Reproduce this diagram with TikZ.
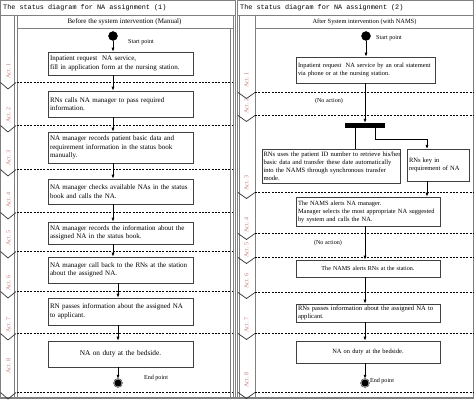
\documentclass[tikz,border=0pt]{standalone}
\usepackage{fontspec}
\setmainfont{Liberation Serif}
\newfontfamily\titlefont{Liberation Mono}
\usetikzlibrary{arrows.meta,calc}
\definecolor{actred}{HTML}{C87878}
\definecolor{framegray}{HTML}{808080}
\tikzset{
  fs/.style 2 args={font=\fontsize{#1}{#2}\selectfont},
  box/.style={draw=black!75, line width=0.6pt, fill=white, align=left, inner xsep=2pt, inner ysep=1pt},
  cbox/.style={box, align=center},
  arr/.style={line width=0.7pt, -{Latex[length=4pt,width=3pt]}},
  plain/.style={line width=0.7pt},
  sep/.style={line width=0.7pt, dash pattern=on 2pt off 1.3pt},
  chev/.style={line width=0.7pt, black!80},
  frame/.style={line width=0.5pt, framegray},
  actlbl/.style={font=\fontsize{6}{7}\selectfont, text=actred, rotate=90, inner sep=0pt},
  lbl/.style={font=\fontsize{6.1}{7.5}\selectfont, inner sep=0pt},
  ttl/.style={font=\titlefont\fontsize{6.8}{8}\selectfont, anchor=west, inner sep=0pt},
  hdr/.style={inner sep=0pt},
  dot/.style={circle, fill=black, draw=black, inner sep=0pt, minimum size=9pt},
  enddot/.style={circle, fill=black, draw=black, double=white, double distance=0.4pt, inner sep=0pt, minimum size=8pt}
}
\begin{document}
\begin{tikzpicture}[x=1pt,y=-1pt]
\useasboundingbox (0,0) rectangle (474,401);
\fill[white] (0,0) rectangle (474,401);

% ---------- frames ----------
\draw[frame] (0.5,0.5) rectangle (235,397);
\draw[frame] (0.5,15) -- (235,15);
\draw[frame] (17,28) -- (233,28);
\draw[frame] (14,15) -- (14,397);
\draw[frame] (17,15) -- (17,397);
\draw[frame] (230,28) -- (230,397);
\draw[frame] (233,15) -- (233,397);
\draw[frame] (237,0.5) rectangle (473.5,397);
\draw[frame] (237,15) -- (473.5,15);
\draw[frame] (255,28) -- (473.5,28);
\draw[frame] (239,15) -- (239,397);
\draw[frame] (255,15) -- (255,397);
\draw[line width=1.5pt, framegray] (0,398) -- (474,398);

% titles and headers
\node[ttl] (t1) at (3,8) {The status diagram for NA assignment (1)};
\node[ttl] (t2) at (240,8) {The status diagram for NA assignment (2)};
\node[hdr, fs={7}{8}] (h1) at (124.5,22) {Before the system intervention (Manual)};
\node[hdr, fs={6.4}{8}] (h2) at (364.5,22) {After System intervention (with NAMS)};

% ---------- separators left ----------
\foreach \y in {82,125,169,212,251,291,333,392}{
  \draw[sep] (17,\y) -- (232,\y);
  \draw[chev] (0.5,\y+0.5) -- (8,\y+7) -- (16,\y+0.5);
}
\foreach \y/\t in {71/1,115/2,158/3,200/4,238/5,283/6,325/7,366/8}{
  \node[actlbl] at (8.5,\y) {Act. \t};
}
% ---------- separators right ----------
\foreach \y in {92,115,192,233,257,292,333,392}{
  \draw[sep] (255,\y) -- (473,\y);
  \draw[chev] (238,\y+0.5) -- (246.5,\y+6.5) -- (255,\y+0.5);
}
\foreach \y/\t in {80/1,106/2,183/3,225/4,250/5,281/6,325/7,380/8}{
  \node[actlbl] at (246.5,\y) {Act. \t};
}

% ---------- left diagram ----------
\node[dot] (sL) at (113,36) {};
\node[lbl] (spL) at (141,42) {Start point};
\node[box, fs={7}{8.5}, minimum width=145pt, minimum height=23pt, text width=141pt] (b1) at (120.5,63.5)
  {Inpatient request~ NA service,\\ fill in application form at the nursing station.};
\node[box, fs={7}{8.5}, minimum width=145pt, minimum height=26pt, text width=141pt] (b2) at (120.5,104)
  {RNs calls NA manager to pass required\\ information.};
\node[box, fs={7}{8.5}, minimum width=145pt, minimum height=31pt, text width=141pt] (b3) at (120.5,147.5)
  {NA manager records patient basic data and\\ requirement information in the status book\\ manually.};
\node[box, fs={7}{8.5}, minimum width=145pt, minimum height=25pt, text width=141pt] (b4) at (120.5,191.5)
  {NA manager checks available NAs in the status\\ book and calls the NA.};
\node[box, fs={7}{8.5}, minimum width=145pt, minimum height=22pt, text width=141pt] (b5) at (120.5,233)
  {NA manager records the information about the\\ assigned NA in the status book.};
\node[box, fs={7}{8.5}, minimum width=145pt, minimum height=26pt, text width=141pt] (b6) at (120.5,270)
  {NA manager call back to the RNs at the station\\ about the assigned NA.};
\node[box, fs={7}{8.5}, minimum width=145pt, minimum height=27pt, text width=141pt] (b7) at (120.5,311.5)
  {RN passes information about the assigned NA\\ to applicant.};
\node[cbox, fs={7.3}{8.5}, minimum width=145pt, minimum height=26pt, text width=141pt] (b8) at (120.5,354)
  {NA on duty at the bedside.};
\node[enddot] (eL) at (118,383) {};
\node[lbl] (epL) at (156,378) {End point};

\draw[arr] (sL.south) -- (sL.south |- b1.north);
\draw[arr] (b1.south -| sL) -- (b2.north -| sL);
\draw[arr] (b2.south -| sL) -- (b3.north -| sL);
\draw[arr] (b3.south -| sL) -- (b4.north -| sL);
\draw[arr] (b4.south -| sL) -- (b5.north -| sL);
\draw[arr] (b5.south -| sL) -- (b6.north -| sL);
\draw[arr] (b6.south -| eL) -- (b7.north -| eL);
\draw[arr] (b7.south -| eL) -- (b8.north -| eL);
\draw[arr] (b8.south -| eL) -- (eL.north);

% ---------- right diagram ----------
\node[dot] (sR) at (366,36) {};
\node[lbl] (spR) at (389,38) {Start point};
\node[box, fs={6.4}{8}, minimum width=139pt, minimum height=26pt, text width=135pt] (r1) at (365.5,70)
  {Inpatient request~ NA service by an oral statement\\ via phone or at the nursing station.};
\node[lbl] (na1) at (329,101) {(No action)};
\node[fill=black, minimum width=40pt, minimum height=5pt, inner sep=0pt] (bar) at (365,125.5) {};
\node[box, fs={6.6}{8}, minimum width=138pt, minimum height=34pt, text width=135pt, inner xsep=1.5pt] (r3a) at (331,166)
  {\mbox{RNs uses the patient ID number to retrieve his/her}\\ basic data and transfer these date automatically\\ into the NAMS through synchronous transfer\\ mode.};
\node[box, fs={6.5}{8}, minimum width=62pt, minimum height=32pt, text width=58pt] (r3b) at (438,165)
  {RNs key in\\ requirement of NA};
\node[box, fs={6.4}{8}, minimum width=144pt, minimum height=29pt, text width=140pt] (r4) at (368,211.5)
  {The NAMS alerts NA manager.\\ Manager selects the most appropriate NA suggested\\ by system and calls the NA.};
\node[lbl] (na2) at (328,243) {(No action)};
\node[cbox, fs={6.1}{8}, minimum width=144pt, minimum height=17pt, text width=140pt] (r6) at (368,268.5)
  {The NAMS alerts RNs at the station.};
\node[box, fs={6.6}{8}, minimum width=144pt, minimum height=18pt, text width=140pt] (r7) at (368,313)
  {RNs passes information about the assigned NA to\\ applicant.};
\node[cbox, fs={6.4}{8}, minimum width=144pt, minimum height=22pt, text width=140pt] (r8) at (368,352)
  {NA on duty at the bedside.};
\node[enddot] (eR) at (365,383) {};
\node[lbl] (epR) at (382,381) {End point};

\coordinate (jl) at (355,128);
\coordinate (jr) at (375,128);
\draw[arr] (sR.south) -- (sR.south |- r1.north);
\draw[arr] (r1.south -| bar) -- (bar.north);
\draw[plain] (jl) -- (jl |- r3a.north);
\draw[arr] (jr) -- ++(0,11) -| (427,149);
\draw[arr] (r3b.south -| 427,0) -- (r4.north -| 427,0);
\draw[arr] (r4.south -| eR) -- (r6.north -| eR);
\draw[arr] (r6.south -| eR) -- (r7.north -| eR);
\draw[arr] (r7.south -| eR) -- (r8.north -| eR);
\draw[arr] (r8.south -| eR) -- (eR.north);
\end{tikzpicture}
\end{document}
